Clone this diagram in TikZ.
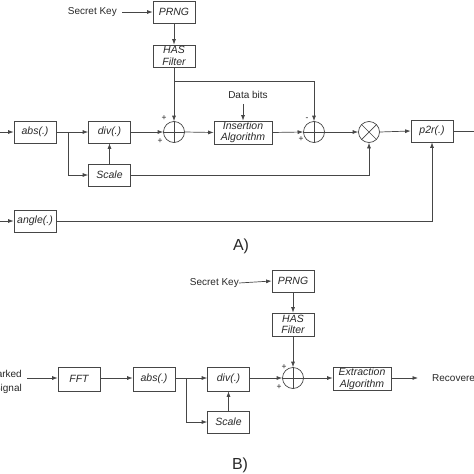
\documentclass[tikz,border=0pt]{standalone}
\usepackage{fontspec}
\setmainfont{Liberation Sans}
\usetikzlibrary{arrows.meta,calc}
\definecolor{linec}{RGB}{70,70,70}
\definecolor{txtc}{RGB}{40,40,40}
\tikzset{
 blk/.style={draw=linec, line width=0.7pt, minimum width=42pt, minimum height=22pt, inner sep=0pt, text=txtc, font=\fontsize{10.5}{11.5}\selectfont\itshape, align=center},
 wideblk/.style={blk, minimum width=58pt, minimum height=23pt},
 sumc/.style={draw=linec, circle, minimum size=21pt, inner sep=0pt, line width=0.7pt},
 arr/.style={-{Latex[length=5.5pt,width=4pt]}, draw=linec, line width=0.7pt},
 ln/.style={draw=linec, line width=0.7pt},
 lbl/.style={font=\fontsize{10}{12}\selectfont, inner sep=0pt, text=txtc},
 sgn/.style={font=\fontsize{8.5}{8.5}\selectfont, inner sep=0pt, text=txtc},
 captxt/.style={font=\fontsize{16}{18}\selectfont, inner sep=0pt, text=txtc},
}
\begin{document}
\begin{tikzpicture}[x=1pt,y=-1pt]
\useasboundingbox (0,0) rectangle (474,474);
\clip (0,0) rectangle (474,474);
% ---------------- Part A ----------------
\node[lbl, anchor=east] (skA) at (117,12) {Secret Key};
\node[blk] (prngA) at (174,12) {PRNG};
\node[blk] (hasA) at (174,56) {HAS\\Filter};
\node[sumc] (s1) at (174,132) {};
\node[lbl] (dbits) at (248,95) {Data bits};
\node[wideblk] (insA) at (243,132.5) {Insertion\\Algorithm};
\node[sumc] (s2) at (314,132) {};
\node[sumc] (mul) at (369,132) {};
\node[blk] (p2r) at (432,131) {p2r(.)};
\node[blk] (absA) at (35,132) {abs(.)};
\node[blk] (divA) at (109.5,132) {div(.)};
\node[blk] (scaleA) at (109.5,175) {Scale};
\node[blk] (angA) at (35,221) {angle(.)};
\node[captxt] (capA) at (241,246) {A)};
\coordinate (inA) at (0,132);
\coordinate (inG) at (0,221);
\coordinate (outA) at (474,131);
\coordinate (brA) at (68,132);
\coordinate (hasBr) at (174,81);
% crosses
\draw[ln] (s1.north) -- (s1.south) (s1.west) -- (s1.east);
\draw[ln] (s2.north) -- (s2.south) (s2.west) -- (s2.east);
\draw[ln] (mul.north west) -- (mul.south east) (mul.north east) -- (mul.south west);
\node[sgn] at (164,118) {+};
\node[sgn] at (160,141) {+};
\node[sgn] at (307,119) {-};
\node[sgn] at (301,139) {+};
% connectors
\draw[arr] ([xshift=5pt]skA.east) -- (prngA.west);
\draw[arr] (prngA.south) -- (hasA.north);
\draw[arr] (hasA.south) -- (s1.north);
\draw[arr] (hasBr) -| (s2.north);
\draw[arr] (inA) -- (absA.west);
\draw[arr] (absA.east) -- (divA.west);
\draw[arr] (brA) |- (scaleA.west);
\draw[arr] (scaleA.north) -- (divA.south);
\draw[arr] (divA.east) -- (s1.west);
\draw[arr] (s1.east) -- (insA.west);
\draw[arr] (insA.north |- dbits.south) ++(0,5) -- (insA.north);
\draw[arr] (insA.east) -- (s2.west);
\draw[arr] (s2.east) -- (mul.west);
\draw[arr] (mul.east) -- (p2r.west);
\draw[arr] (scaleA.east) -| (mul.south);
\draw[arr] (inG) -- (angA.west);
\draw[arr] (angA.east) -| (p2r.south);
\draw[ln] (p2r.east) -- (outA);
% ---------------- Part B ----------------
\node[lbl, anchor=east] (skB) at (239,283) {Secret Key};
\node[blk] (prngB) at (293,281) {PRNG};
\node[blk, minimum height=23pt] (hasB) at (293,324.5) {HAS\\Filter};
\node[sumc] (sB) at (293,378) {};
\node[wideblk] (extB) at (362,379) {Extraction\\Algorithm};
\node[lbl, anchor=west] (rec) at (432,378) {Recovered};
\node[lbl, anchor=east, align=right, font=\fontsize{10}{14}\selectfont] (wm) at (22,382) {Watermarked\\Signal};
\node[blk, minimum height=24pt] (fftB) at (79,379) {FFT};
\node[blk, minimum height=24pt] (absB) at (154,379) {abs(.)};
\node[blk, minimum height=24pt] (divB) at (228.5,379) {div(.)};
\node[blk] (scaleB) at (228.5,422) {Scale};
\node[captxt] (capB) at (240,465) {B)};
\coordinate (brB) at (186,378);
\draw[ln] (sB.north) -- (sB.south) (sB.west) -- (sB.east);
\node[sgn] at (284,367) {+};
\node[sgn] at (279,387) {+};
\draw[arr] (skB.east) -- (prngB.west);
\draw[arr] (prngB.south) -- (hasB.north);
\draw[arr] (hasB.south) -- (sB.north);
\draw[arr] ([xshift=5pt]wm.east |- sB.west) -- (fftB.west |- sB.west);
\draw[arr] (fftB.east |- sB.west) -- (absB.west |- sB.west);
\draw[arr] (absB.east |- sB.west) -- (divB.west |- sB.west);
\draw[arr] (brB) |- (scaleB.west);
\draw[arr] (scaleB.north) -- (divB.south);
\draw[arr] (divB.east |- sB.west) -- (sB.west);
\draw[arr] (sB.east) -- (extB.west |- sB.east);
\draw[arr] (extB.east |- sB.east) -- ([xshift=-14pt]rec.west);
\end{tikzpicture}
\end{document}
